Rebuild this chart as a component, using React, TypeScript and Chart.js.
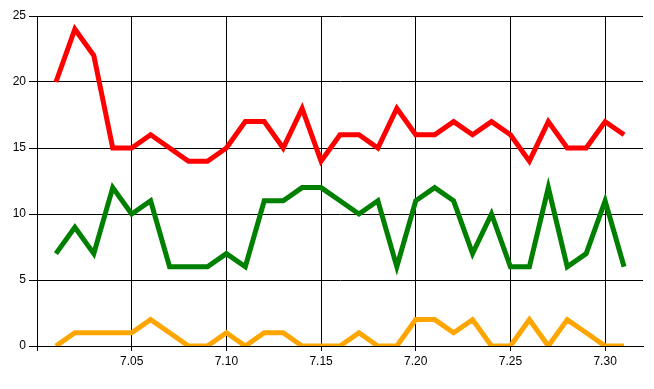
import React, { useEffect, useRef } from "react";
import { Chart, registerables } from "chart.js";

Chart.register(...registerables);

const days = [1,2,3,4,5,6,7,8,9,10,11,12,13,14,15,16,17,18,19,20,21,22,23,24,25,26,27,28,29,30,31];
const redValues = [20,24,22,15,15,16,15,14,14,15,17,17,15,18,14,16,16,15,18,16,16,17,16,17,16,14,17,15,15,17,16];
const greenValues = [7,9,7,12,10,11,6,6,6,7,6,11,11,12,12,11,10,11,6,11,12,11,7,10,6,6,12,6,7,11,6];
const orangeValues = [0,1,1,1,1,2,1,0,0,1,0,1,1,0,0,0,1,0,0,2,2,1,2,0,0,2,0,2,1,0,0];
const xTickValues = [0,5,10,15,20,25,30];
const yTickValues = [0,5,10,15,20,25];

const toPoints = (vals: number[]) => vals.map((v, i) => ({ x: days[i], y: v }));

export default function App() {
  const ref = useRef<HTMLCanvasElement>(null);
  useEffect(() => {
    if (!ref.current) return;
    const font = { family: "'Liberation Sans', Arial, sans-serif", size: 12 };
    const chart = new Chart(ref.current, {
      type: "line",
      data: {
        datasets: [
          { data: toPoints(redValues), borderColor: "#FF0000", borderWidth: 5, pointRadius: 0, fill: false, tension: 0 },
          { data: toPoints(greenValues), borderColor: "#008000", borderWidth: 5, pointRadius: 0, fill: false, tension: 0 },
          { data: toPoints(orangeValues), borderColor: "#FFA500", borderWidth: 5, pointRadius: 0, fill: false, tension: 0 },
        ],
      },
      options: {
        animation: false,
        responsive: false,
        maintainAspectRatio: false,
        layout: { padding: { left: 0, right: 11, top: 16, bottom: 0 } },
        plugins: { legend: { display: false }, tooltip: { enabled: false } },
        scales: {
          x: {
            type: "linear",
            min: 0,
            max: 32,
            afterBuildTicks: (s: any) => { s.ticks = xTickValues.map((v) => ({ value: v })); },
            afterFit: (s: any) => { s.height = 43; },
            grid: { color: "#000000", lineWidth: 1, tickLength: 5, drawTicks: true },
            border: { color: "#000000", width: 1 },
            ticks: {
              color: "#000000",
              font,
              padding: 3,
              maxRotation: 0,
              autoSkip: false,
              callback: (v: any) => (v === 0 ? "" : "7." + String(v).padStart(2, "0")),
            },
          },
          y: {
            type: "linear",
            min: 0,
            max: 25,
            afterBuildTicks: (s: any) => { s.ticks = yTickValues.map((v) => ({ value: v })); },
            afterFit: (s: any) => { s.width = 37; },
            grid: { color: "#000000", lineWidth: 1, tickLength: 8 },
            border: { color: "#000000", width: 1 },
            ticks: { color: "#000000", font, padding: 3 },
          },
        },
      },
    } as any);
    return () => chart.destroy();
  }, []);
  return (
    <div style={{ position: "fixed", left: 0, top: 0, width: 654, height: 389, background: "#fff" }}>
      <canvas ref={ref} width={654} height={389} style={{ width: 654, height: 389 }} />
    </div>
  );
}
